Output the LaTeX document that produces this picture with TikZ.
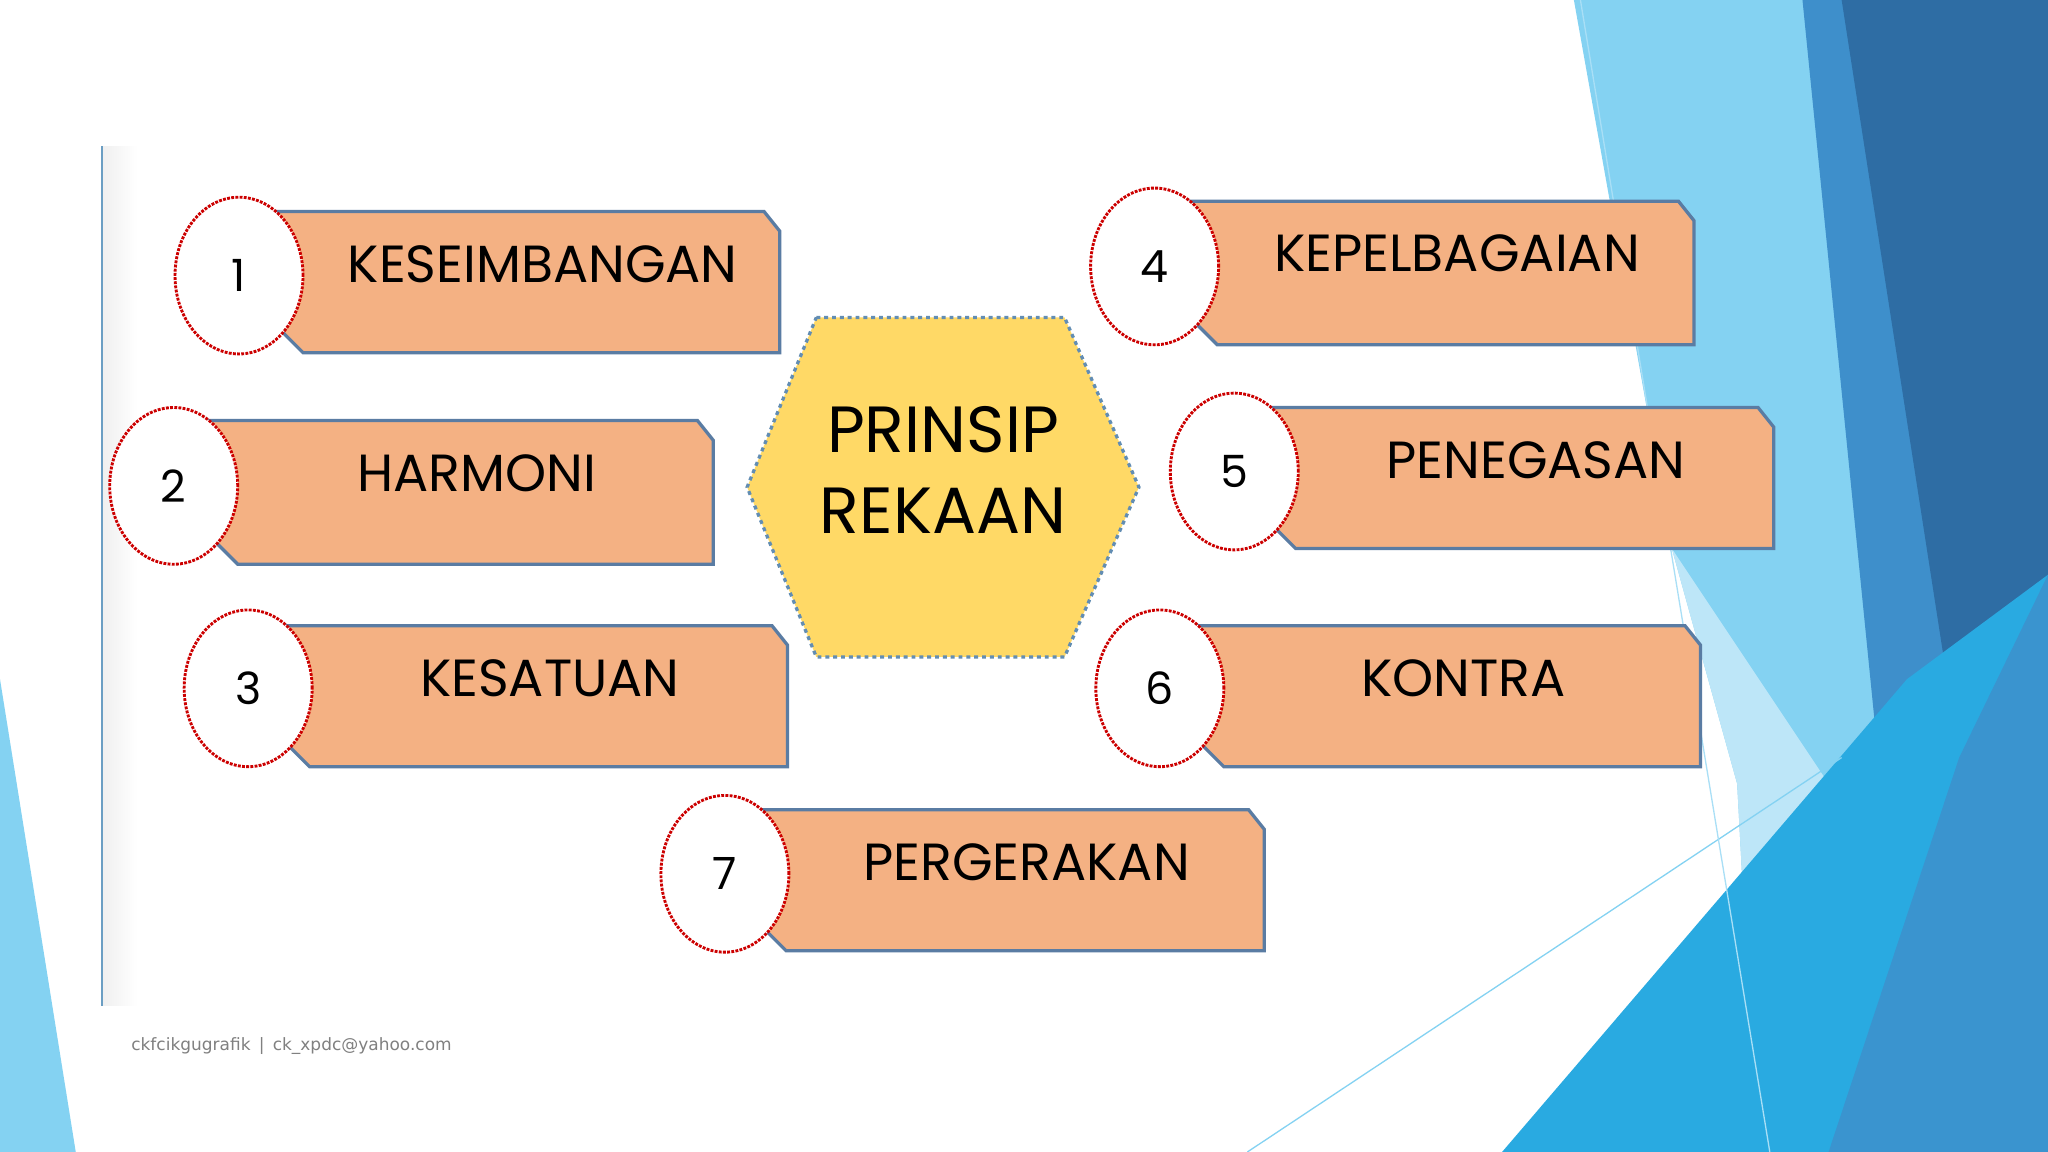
\documentclass[tikz,border=0pt]{standalone}
\usepackage{fontspec}
\usetikzlibrary{shapes.geometric}
\setmainfont{Poppins}
\newfontfamily\footfont{DejaVu Sans}
\begin{document}
\begin{tikzpicture}[x=1pt,y=-1pt,
  boxfill/.style={fill=salmonc,draw=edgec,line width=2.5pt,line join=miter},
  numcirc/.style={ellipse,fill=white,draw=red!80!black,densely dotted,line width=2.2pt,minimum width=98pt,minimum height=120pt,font=\fontsize{34}{34}\selectfont},
  lbl/.style={font=\fontsize{40}{40}\selectfont,text=black}]
\definecolor{salmonc}{HTML}{F4B183}
\definecolor{edgec}{HTML}{5A7CA3}
\definecolor{hexc}{HTML}{FFD966}
\definecolor{lightb}{HTML}{84D2F2}
\definecolor{paleb}{HTML}{BDE6F8}
\definecolor{darkb}{HTML}{2E6DA4}
\definecolor{midb}{HTML}{3E8FCB}
\definecolor{brightb}{HTML}{29AAE1}
\useasboundingbox (0,0) rectangle (1568,882);
\fill[white] (0,0) rectangle (1568,882);
% background right
\fill[lightb] (1205,0) -- (1568,0) -- (1568,882) -- (1345,882) -- (1330,600) -- (1280,420) -- cycle;
\fill[paleb] (1280,420) -- (1330,600) -- (1345,882) -- (1200,882) -- (1400,600) -- cycle;
\fill[midb] (1380,0) -- (1568,0) -- (1568,882) -- (1420,882) -- (1440,600) -- cycle;
\fill[darkb] (1410,0) -- (1568,0) -- (1568,440) -- (1500,580) -- cycle;
\fill[brightb] (1150,882) -- (1460,520) -- (1568,440) -- (1568,882) -- cycle;
\fill[midb!80!brightb] (1400,882) -- (1500,580) -- (1568,440) -- (1568,882) -- cycle;
\draw[lightb,line width=1pt] (955,882) -- (1410,580);
\draw[lightb!70!white,line width=1pt] (1210,0) -- (1355,882);
% left
\fill[lightb] (0,520) -- (0,882) -- (58,882) -- cycle;
\fill[left color=gray!12,right color=white] (79,112) rectangle (105,770);
\draw[edgec!60!lightb,line width=1.5pt] (78,112) -- (78,770);
\node[anchor=west,text=gray,font=\footfont\fontsize{13}{13}\selectfont] (foot) at (97,801) {ckfcikgugrafik \,|\, ck\_xpdc@yahoo.com};
% hexagon
\filldraw[fill=hexc,draw=edgec!80!lightb,dashed,line width=2.5pt] (625,243) -- (815,243) -- (872,373) -- (815,503) -- (625,503) -- (572,373) -- cycle;
\node[font=\fontsize{50}{62}\selectfont,align=center] (hex) at (722,360) {PRINSIP\\REKAAN};
% boxes
\newcommand\pbox[8]{%
  \filldraw[boxfill] (#2,#3) -- (#4-12,#3) -- (#4,#3+15) -- (#4,#5) -- (#2+22,#5) -- (#2,#5-22) -- cycle;
  \node[numcirc] (c#1) at (#6,#7) {#1};
  \node[lbl] (t#1) at ({(#2+#4)/2+12},#3+40) {#8};}
\pbox{1}{210}{162}{597}{270}{183}{211}{KESEIMBANGAN}
\pbox{2}{160}{322}{546}{432}{133}{372}{HARMONI}
\pbox{3}{215}{479}{603}{587}{190}{527}{KESATUAN}
\pbox{4}{910}{154}{1297}{264}{884}{204}{KEPELBAGAIAN}
\pbox{5}{970}{312}{1358}{420}{945}{361}{PENEGASAN}
\pbox{6}{915}{479}{1302}{587}{888}{527}{KONTRA}
\pbox{7}{580}{620}{968}{728}{555}{669}{PERGERAKAN}
\end{tikzpicture}
\end{document}
